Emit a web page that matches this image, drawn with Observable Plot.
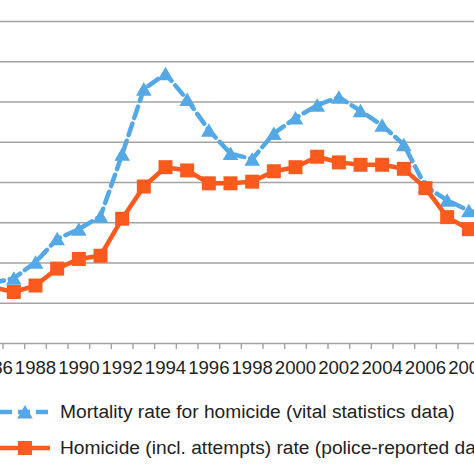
<!DOCTYPE html>
<html>
<head>
<meta charset="utf-8">
<script src="https://cdn.jsdelivr.net/npm/d3@7"></script>
<script src="https://cdn.jsdelivr.net/npm/@observablehq/plot@0.6"></script>
<style>
  html, body { margin: 0; padding: 0; background: #fff; }
  #frame { position: relative; width: 474px; height: 474px; overflow: hidden; background: #fff;
           font-family: "Liberation Sans Narrow", "Liberation Sans", Arial, sans-serif; }
  #chart svg { display: block; overflow: hidden; }
  .legend-row { position: relative; height: 36px; display: flex; align-items: center; }
  .legend-row svg { flex: none; display: block; }
  .legend-row span { margin-left: 10px; font-size: 19.2px; color: #222; white-space: nowrap; }
</style>
</head>
<body>
<div id="frame">
  <div id="chart"></div>
  <div id="legend"></div>
</div>
<script>
// Years on the category axis
const years = d3.range(1986, 2010);
// Mortality rate for homicide (vital statistics), per 100 000
const mortality = [7.5, 8.1, 10.1, 13.0, 14.2, 15.8, 23.5, 31.6, 33.5, 30.3, 26.5, 23.6,
                   22.9, 26.1, 28.0, 29.6, 30.6, 28.9, 27.1, 24.7, 19.5, 17.8, 16.5, 15.9];
// Homicide incl. attempts (police-reported), per 100 000
const policeRate = [7.0, 6.4, 7.2, 9.3, 10.5, 10.9, 15.5, 19.5, 21.9, 21.5, 19.9, 19.9,
                    20.1, 21.4, 21.9, 23.2, 22.5, 22.2, 22.2, 21.7, 19.3, 15.7, 14.2, 13.8];
// Axis ticks and labels
const gridValues = [5, 10, 15, 20, 25, 30, 35, 40];
const tickYears = d3.range(1985.5, 2011, 1);
const labelYears = d3.range(1986, 2011, 2);
const seriesNames = ["Mortality rate for homicide (vital statistics data)",
                     "Homicide (incl. attempts) rate (police-reported data)"];

const blue = "#55a8e6";
const orange = "#fb5a1f";
const grid = "#a3a3a3";

const blueData = years.map((year, i) => ({year, value: mortality[i]}));
const orangeData = years.map((year, i) => ({year, value: policeRate[i]}));

const chart = Plot.plot({
  width: 474,
  height: 385,
  margin: 0,
  style: {fontFamily: "'Liberation Sans Narrow', 'Liberation Sans', Arial, sans-serif", fontSize: "18.6px", color: "#222", background: "#fff"},
  x: {type: "linear", domain: [1988, 2006], range: [35, 425], axis: null},
  y: {type: "linear", domain: [0, 40], range: [343, 21], axis: null},
  marks: [
    Plot.ruleY(gridValues, {x1: 1984, x2: 2012, stroke: grid, strokeWidth: 1.4}),
    Plot.ruleY([0], {x1: 1984, x2: 2012, stroke: grid, strokeWidth: 1.4}),
    Plot.ruleX(tickYears, {y1: 0, y2: -0.75, stroke: grid, strokeWidth: 1.4}),
    Plot.text(labelYears, {x: d => d, y: 0, dy: 25, text: d => String(d), fill: "#222"}),
    Plot.line(blueData, {x: "year", y: "value", stroke: blue, strokeWidth: 4.5, strokeDasharray: "12,6"}),
    Plot.dot(blueData, {x: "year", y: "value", symbol: "triangle", r: 5.8, dy: 2, fill: blue, stroke: "none"}),
    Plot.line(orangeData, {x: "year", y: "value", stroke: orange, strokeWidth: 4.5}),
    Plot.dot(orangeData, {x: "year", y: "value", symbol: "square", r: 7.9, fill: orange, stroke: "none"})
  ]
});
document.getElementById("chart").append(chart);

// Legend rows below the chart
const legend = d3.select("#legend").style("padding-top", "9px");
const swatches = [
  {name: seriesNames[0], color: blue, dash: "12,6", symbol: d3.symbolTriangle, size: 105, dy: 2},
  {name: seriesNames[1], color: orange, dash: null, symbol: d3.symbolSquare, size: 196, dy: 0}
];
for (const s of swatches) {
  const row = legend.append("div").attr("class", "legend-row");
  const svg = row.append("svg").attr("width", 50).attr("height", 36);
  svg.append("line").attr("x1", 0).attr("x2", 50).attr("y1", 18).attr("y2", 18)
    .attr("stroke", s.color).attr("stroke-width", 4.5)
    .attr("stroke-dasharray", s.dash);
  svg.append("path").attr("d", d3.symbol(s.symbol, s.size)())
    .attr("transform", `translate(25,${18 + s.dy})`).attr("fill", s.color);
  row.append("span").text(s.name);
}
</script>
</body>
</html>
